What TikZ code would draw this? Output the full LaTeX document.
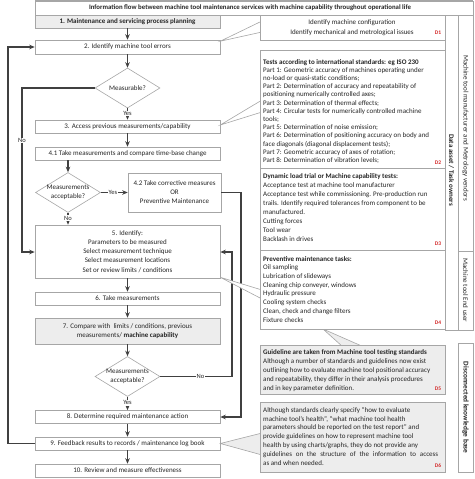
\documentclass[tikz,border=0pt]{standalone}
\usepackage{fontspec}
\setmainfont{Carlito}
\usetikzlibrary{shapes.geometric,arrows.meta,calc}
\definecolor{bgray}{HTML}{A6A6A6}
\definecolor{fgray}{HTML}{EDEDED}
\definecolor{ac}{HTML}{404040}
\definecolor{dred}{HTML}{D42A2A}
\definecolor{tx}{HTML}{262626}
\begin{document}
\begin{tikzpicture}[x=1pt,y=-1pt,
  every node/.style={font=\fontsize{7}{8.5}\selectfont,text=tx},
  fbox/.style={draw=bgray,line width=0.6pt,fill=white,minimum width=185pt,inner sep=1pt,align=center},
  gbox/.style={fbox,fill=fgray},
  dec/.style={diamond,draw=bgray,line width=0.6pt,fill=white,minimum width=65pt,minimum height=40pt,inner sep=0pt},
  dbox/.style={draw=bgray,line width=0.6pt,fill=white,inner sep=0pt,minimum width=185pt,anchor=north west},
  dtxt/.style={anchor=north west,inner sep=0pt,align=left},
  dlab/.style={text=dred,font=\fontsize{5.5}{6}\selectfont\bfseries,inner sep=0.5pt},
  arr/.style={draw=ac,line width=1.1pt,-{Stealth[length=5.5pt,width=4.6pt]}},
  lbl/.style={fill=white,inner sep=0.6pt,font=\fontsize{6.5}{7}\selectfont},
  side/.style={draw=bgray,line width=0.6pt,fill=white,minimum width=15pt,inner sep=0pt,anchor=north west},
  wedge/.style={draw=bgray,line width=0.6pt,fill=white},
]
\useasboundingbox (0,0) rectangle (474,479);
% title
\fill[bgray] (35,0) rectangle (473,1.5);
\node[draw=bgray,line width=0.6pt,fill=white,minimum width=438pt,minimum height=14pt,anchor=north west,inner sep=0pt] (title) at (35,1) {};
\node[font=\fontsize{6.8}{8}\selectfont\bfseries] (titletxt) at (250,8) {Information flow between machine tool maintenance services with machine capability throughout operational life};

% flow boxes
\node[gbox,minimum height=13pt] (b1) at (127.5,21.5) {\bfseries 1. Maintenance and servicing process planning};
\node[fbox,minimum height=14pt] (b2) at (127.5,47) {2. Identify machine tool errors};
\node[dec] (d1) at (127.5,88) {};
\node (d1t) at (d1) {Measurable?};
\node[fbox,minimum height=13pt] (b3) at (127.5,126.5) {3. Access previous measurements/capability};
\node[fbox,minimum height=13pt] (b41) at (127.5,153.5) {4.1 Take measurements and compare time-base change};
\node[dec] (d2) at (68,192.5) {};
\node[align=center,font=\fontsize{7}{9}\selectfont] (d2t) at (d2) {Measurements\\acceptable?};
\node[fbox,minimum width=93pt,minimum height=39pt,font=\fontsize{7}{9}\selectfont] (b42) at (174.5,192.5) {4.2 Take corrective measures\\OR\\Preventive Maintenance};
\node[fbox,minimum height=53pt,font=\fontsize{7}{9.2}\selectfont] (b5) at (127.5,251.5) {5. Identify:\\Parameters to be measured\\Select measurement technique\\Select measurement locations\\Set or review limits / conditions};
\node[fbox,minimum height=13pt] (b6) at (127.5,298.5) {6. Take measurements};
\node[gbox,minimum height=26pt,font=\fontsize{7}{9.5}\selectfont] (b7) at (127.5,331) {7. Compare with\ \ limits / conditions, previous\\measurements/ \textbf{machine capability}};
\node[dec] (d3) at (127.5,376.5) {};
\node[align=center,font=\fontsize{7}{9}\selectfont] (d3t) at (d3) {Measurements\\acceptable?};
\node[fbox,minimum height=13pt] (b8) at (127.5,417) {8. Determine required maintenance action};
\node[fbox,minimum height=13pt] (b9) at (127.5,443.5) {9. Feedback results to records / maintenance log book};
\node[fbox,minimum height=13pt] (b10) at (127.5,470.5) {10. Review and measure effectiveness};

% bend points
\coordinate (nA) at (22,88);
\coordinate (nB) at (22,252);
\coordinate (oA) at (8,443.5);
\coordinate (oB) at (8,47);
\coordinate (rA) at (232,376.5);
\coordinate (rB) at (232,252);
\coordinate (qA) at (241,192.5);
\coordinate (qB) at (241,417);

% connectors
\draw[arr] (b1) -- (b2);
\draw[arr] (b2) -- (d1);
\draw[arr] (d1.south) -- node[lbl,pos=0.45]{Yes} (b3.north);
\draw[arr] (b3) -- (b41);
\draw[arr] (b41.south -| d2.north) -- (d2.north);
\draw[arr] (d2.east) -- node[lbl,pos=0.45]{Yes} (b42.west);
\draw[arr] (d2.south) -- node[lbl,pos=0.45]{No} (b5.north -| d2.south);
\draw[arr] (b5) -- (b6);
\draw[arr] (b6) -- (b7);
\draw[arr] (b7) -- (d3);
\draw[arr] (d3.south) -- node[lbl,pos=0.45]{Yes} (b8.north);
\draw[arr] (b8) -- (b9);
\draw[arr] (b9) -- (b10);
\draw[arr] (d1.west) -- (nA) -- node[lbl,pos=0.32]{No} (nB) -- (nB -| b5.west);
\draw[arr] (b9.west) -- (oA) -- (oB) -- (b2.west);
\draw[arr] (d3.east) -- node[lbl,pos=0.56]{No} (rA) -- (rB) -- (rB -| b5.east);
\draw[arr] (b42.east) -- (qA) -- (qB) -- (b8.east);

% callout wedges
\draw[wedge] ($(b2.north east)+(0,1.5)$) -- (262,21) -- (262,32) -- cycle;
\draw[wedge] ($(b3.east)+(0,-1.5)$) -- (262,100) -- (262,112) -- cycle;
\draw[wedge] ($(b5.south east)+(0,-1)$) -- (262,290) -- (262,299) -- cycle;
\draw[wedge,fill=fgray] ($(b9.east)+(0,0)$) -- (262,433) -- (262,455) -- cycle;
\draw[wedge,fill=fgray] (323,329) -- (343,347) -- (364,347) -- cycle;

% D boxes
\node[dbox,minimum height=25pt] (D1) at (260,15) {};
\node[dbox,minimum height=118pt] (D2) at (260,50) {};
\node[dbox,minimum height=82pt] (D3) at (260,168) {};
\node[dbox,minimum height=79pt] (D4) at (260,250) {};
\node[dbox,fill=fgray,minimum height=49pt] (D5) at (260,345) {};
\node[dbox,fill=fgray,minimum height=70pt] (D6) at (260,402) {};

\node[align=center,font=\fontsize{7}{10}\selectfont] (D1t) at (352,27.5) {Identify machine configuration\\Identify mechanical and metrological issues};
\node[dtxt,font=\fontsize{7}{8.2}\selectfont] (D2t) at (263,59) {\textbf{Tests according to international standards: eg ISO 230}\\
Part 1: Geometric accuracy of machines operating under\\
no-load or quasi-static conditions;\\
Part 2: Determination of accuracy and repeatability of\\
positioning numerically controlled axes;\\
Part 3: Determination of thermal effects;\\
Part 4: Circular tests for numerically controlled machine\\
tools;\\
Part 5: Determination of noise emission;\\
Part 6: Determination of positioning accuracy on body and\\
face diagonals (diagonal displacement tests);\\
Part 7: Geometric accuracy of axes of rotation;\\
Part 8: Determination of vibration levels;};
\node[dtxt,font=\fontsize{7}{9.1}\selectfont] (D3t) at (263,173) {\textbf{Dynamic load trial or Machine capability tests:}\\
Acceptance test at machine tool manufacturer\\
Acceptance test while commissioning. Pre-production run\\
trails. Identify required tolerances from component to be\\
manufactured.\\
Cutting forces\\
Tool wear\\
Backlash in drives};
\node[dtxt,font=\fontsize{7}{8.7}\selectfont] (D4t) at (263,256) {\textbf{Preventive maintenance tasks:}\\
Oil sampling\\
Lubrication of slideways\\
Cleaning chip conveyer, windows\\
Hydraulic pressure\\
Cooling system checks\\
Clean, check and change filters\\
Fixture checks};
\node[dtxt,font=\fontsize{7}{9}\selectfont] (D5t) at (263,349) {\textbf{Guideline are taken from Machine tool testing standards}\\
Although a number of standards and guidelines now exist\\
outlining how to evaluate machine tool positional accuracy\\
and repeatability, they differ in their analysis procedures\\
and in key parameter definition.};
\node[dtxt,font=\fontsize{7}{8.8}\selectfont] (D6t) at (263,407) {Although standards clearly specify “how to evaluate\\
machine tool’s health”, “what machine tool health\\
parameters should be reported on the test report” and\\
provide guidelines on how to represent machine tool\\
health by using charts/graphs, they do not provide any\\
\makebox[175pt][s]{guidelines on the structure of the information to access}\\
as and when needed.};

\node[dlab] (L1) at (438,33) {D1};
\node[dlab] (L2) at (438,163) {D2};
\node[dlab] (L3) at (438,244) {D3};
\node[dlab] (L4) at (438,323) {D4};
\node[dlab] (L5) at (438,389) {D5};
\node[dlab] (L6) at (438,466) {D6};

% side columns
\node[draw=bgray,line width=0.6pt,fill=white,minimum width=13pt,minimum height=315pt,anchor=north west,inner sep=0pt] (S0) at (445,15) {};
\node[rotate=-90,font=\fontsize{7}{8}\selectfont\bfseries] (S0t) at (451.5,170) {Data asset / Task owners};
\node[side,minimum height=236pt] (S1) at (458,15) {};
\node[rotate=-90] (S1t) at (465.5,128) {Machine tool manufacturer and Metrology vendors};
\node[side,minimum height=79pt] (S2) at (458,251) {};
\node[rotate=-90] (S2t) at (465.5,290.5) {Machine tool End user};
\node[side,minimum height=129pt] (S3) at (458,343) {};
\node[rotate=-90,font=\fontsize{7.3}{8}\selectfont\bfseries] (S3t) at (465.5,407.5) {Disconnected knowledge base};
\end{tikzpicture}
\end{document}
